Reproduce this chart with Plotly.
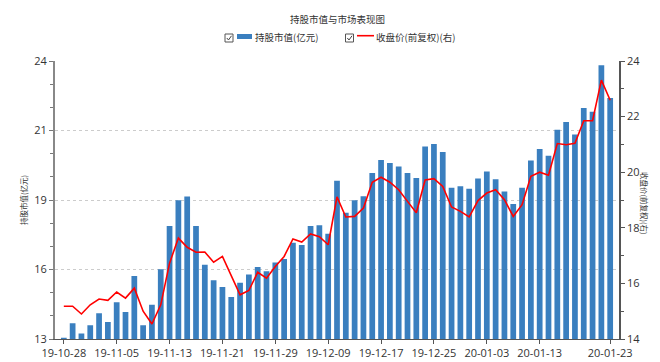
import plotly.graph_objects as go

dates = ['19-10-28','19-10-29','19-10-30','19-10-31','19-11-01',
         '19-11-04','19-11-05','19-11-06','19-11-07','19-11-08',
         '19-11-11','19-11-12','19-11-13','19-11-14','19-11-15',
         '19-11-18','19-11-19','19-11-20','19-11-21','19-11-22',
         '19-11-25','19-11-26','19-11-27','19-11-28','19-11-29',
         '19-12-02','19-12-03','19-12-04','19-12-05','19-12-06',
         '19-12-09','19-12-10','19-12-11','19-12-12','19-12-13',
         '19-12-16','19-12-17','19-12-18','19-12-19','19-12-20',
         '19-12-23','19-12-24','19-12-25','19-12-26','19-12-27',
         '19-12-30','19-12-31','20-01-02','20-01-03',
         '20-01-06','20-01-07','20-01-08','20-01-09','20-01-10',
         '20-01-13','20-01-14','20-01-15','20-01-16','20-01-17',
         '20-01-20','20-01-21','20-01-22','20-01-23']

market_value = [13.05,13.62,13.22,13.54,14.02,13.67,14.45,14.07,15.49,13.54,
                14.36,15.76,17.47,18.49,18.64,17.47,15.94,15.32,15.06,14.66,
                15.23,15.55,15.85,15.68,16.03,16.17,16.81,16.72,17.47,17.50,
                17.16,19.26,18.00,18.49,18.65,19.57,20.08,19.96,19.83,19.57,
                19.37,20.62,20.72,20.40,18.98,19.04,18.95,19.35,19.63,19.32,
                18.84,18.34,18.98,20.06,20.52,20.25,21.28,21.59,21.09,22.14,
                21.99,23.83,22.54]

close_price = [15.18,15.18,14.90,15.23,15.44,15.39,15.69,15.47,15.83,15.00,
               14.54,15.23,16.73,17.63,17.30,17.12,17.13,16.76,16.97,16.28,
               15.59,15.75,16.40,16.19,16.61,16.97,17.60,17.49,17.78,17.68,
               17.39,19.11,18.39,18.41,18.71,19.64,19.82,19.64,19.37,18.95,
               18.54,19.72,19.77,19.49,18.75,18.59,18.39,18.98,19.25,19.37,
               19.01,18.41,18.83,19.85,20.00,19.89,21.03,20.99,21.04,21.85,
               21.85,23.31,22.59]

x_tick_labels = ['19-10-28','19-11-05','19-11-13','19-11-21','19-11-29','19-12-09',
                 '19-12-17','19-12-25','20-01-03','20-01-13','20-01-23']

left_tick_vals = [13, 15.75, 18.5, 21.25, 24]
left_tick_text = ['13', '16', '19', '21', '24']
right_tick_vals = [14, 16, 18, 20, 22, 24]

title_text = '持股市值与市场表现图'
bar_name = '持股市值(亿元)'
line_name = '收盘价(前复权)(右)'

BAR_COLOR = '#3a7fbf'
LINE_COLOR = '#ff0000'
FONT = 'Segoe UI, Open Sans, Noto Sans CJK SC, sans-serif'
CJK = 'Microsoft YaHei, Noto Sans CJK SC, sans-serif'

# plot area in pixels
L, R, T, B = 47, 611, 53, 331
W, H = 660, 362

def px(x):
    return (x - L) / (R - L)

def py(y):
    return (B - y) / (B - T)

fig = go.Figure()
fig.add_trace(go.Bar(x=dates, y=market_value, name=bar_name,
                     marker=dict(color=BAR_COLOR, line=dict(width=0)),
                     yaxis='y', showlegend=False))
fig.add_trace(go.Scatter(x=dates, y=close_price, name=line_name, mode='lines',
                         line=dict(color=LINE_COLOR, width=1.6),
                         yaxis='y2', showlegend=False))

minor_left = [13 + k * 11 / 12 for k in range(13)]

fig.update_layout(
    width=W, height=H,
    margin=dict(l=L, r=W - R, t=T, b=H - B, pad=0),
    paper_bgcolor='white', plot_bgcolor='white',
    bargap=0.35,
    font=dict(family=FONT, size=11, color='#333333'),
    xaxis=dict(type='category', range=[-1, len(dates)],
               tickmode='array', tickvals=x_tick_labels, ticktext=x_tick_labels,
               ticks='outside', ticklen=4, tickcolor='#555555',
               showline=True, linecolor='#555555', linewidth=1,
               showgrid=False, zeroline=False, automargin=False,
               tickfont=dict(size=11, color='#333333')),
    yaxis=dict(range=[13, 24], tickmode='array', tickvals=left_tick_vals,
               ticktext=left_tick_text, ticks='outside', ticklen=4,
               tickcolor='#777777', automargin=False,
               minor=dict(tickvals=minor_left, ticks='outside', ticklen=3,
                          tickcolor='#777777', showgrid=False),
               showline=True, linecolor='#888888', linewidth=2,
               showgrid=True, gridcolor='#cccccc', griddash='dot', gridwidth=1,
               zeroline=False, tickfont=dict(size=11, color='#333333')),
    yaxis2=dict(range=[14, 24], overlaying='y', side='right',
                tickmode='array', tickvals=right_tick_vals,
                ticktext=[str(v) for v in right_tick_vals],
                ticks='outside', ticklen=4, tickcolor='#555555',
                minor=dict(tickvals=[15, 17, 19, 21, 23], ticks='outside',
                           ticklen=3, tickcolor='#555555', showgrid=False),
                showline=True, linecolor='#555555', linewidth=1.5,
                showgrid=False, zeroline=False, automargin=False,
                tickfont=dict(size=11, color='#333333')),
)

shapes = []
annotations = []

# title
annotations.append(dict(text=title_text, xref='paper', yref='paper',
                        x=px(329), y=py(10.5), xanchor='center', yanchor='middle',
                        showarrow=False, font=dict(family=CJK, size=9.5, color='#333333')))

def checkbox(x0, y0):
    shapes.append(dict(type='rect', xref='paper', yref='paper',
                       x0=px(x0), x1=px(x0 + 8), y0=py(y0), y1=py(y0 + 8),
                       line=dict(color='#555555', width=1), fillcolor='white'))
    shapes.append(dict(type='path', xref='paper', yref='paper',
                       path='M %f,%f L %f,%f L %f,%f' % (
                           px(x0 + 1.8), py(y0 + 4), px(x0 + 3.5), py(y0 + 6),
                           px(x0 + 6.5), py(y0 + 1.8)),
                       line=dict(color='#444444', width=1)))

checkbox(217, 26)
shapes.append(dict(type='rect', xref='paper', yref='paper',
                   x0=px(229), x1=px(244), y0=py(26), y1=py(31),
                   line=dict(width=0), fillcolor=BAR_COLOR))
annotations.append(dict(text=bar_name, xref='paper', yref='paper',
                        x=px(245), y=py(28.5), xanchor='left', yanchor='middle',
                        showarrow=False, font=dict(family=CJK, size=9.5, color='#333333')))

checkbox(337.5, 26)
shapes.append(dict(type='line', xref='paper', yref='paper',
                   x0=px(349), x1=px(366), y0=py(27.7), y1=py(27.7),
                   line=dict(color=LINE_COLOR, width=1.6)))
annotations.append(dict(text=line_name, xref='paper', yref='paper',
                        x=px(366), y=py(28.5), xanchor='left', yanchor='middle',
                        showarrow=False, font=dict(family=CJK, size=9.5, color='#333333')))

# axis titles
annotations.append(dict(text=bar_name, xref='paper', yref='paper',
                        x=px(15), y=py(192), xanchor='center', yanchor='middle',
                        textangle=-90, showarrow=False,
                        font=dict(family=CJK, size=7.5, color='#333333')))
annotations.append(dict(text=line_name, xref='paper', yref='paper',
                        x=px(636), y=py(195), xanchor='center', yanchor='middle',
                        textangle=90, showarrow=False,
                        font=dict(family=CJK, size=7.5, color='#333333')))

fig.update_layout(shapes=shapes, annotations=annotations)

fig.write_html('out.html')
